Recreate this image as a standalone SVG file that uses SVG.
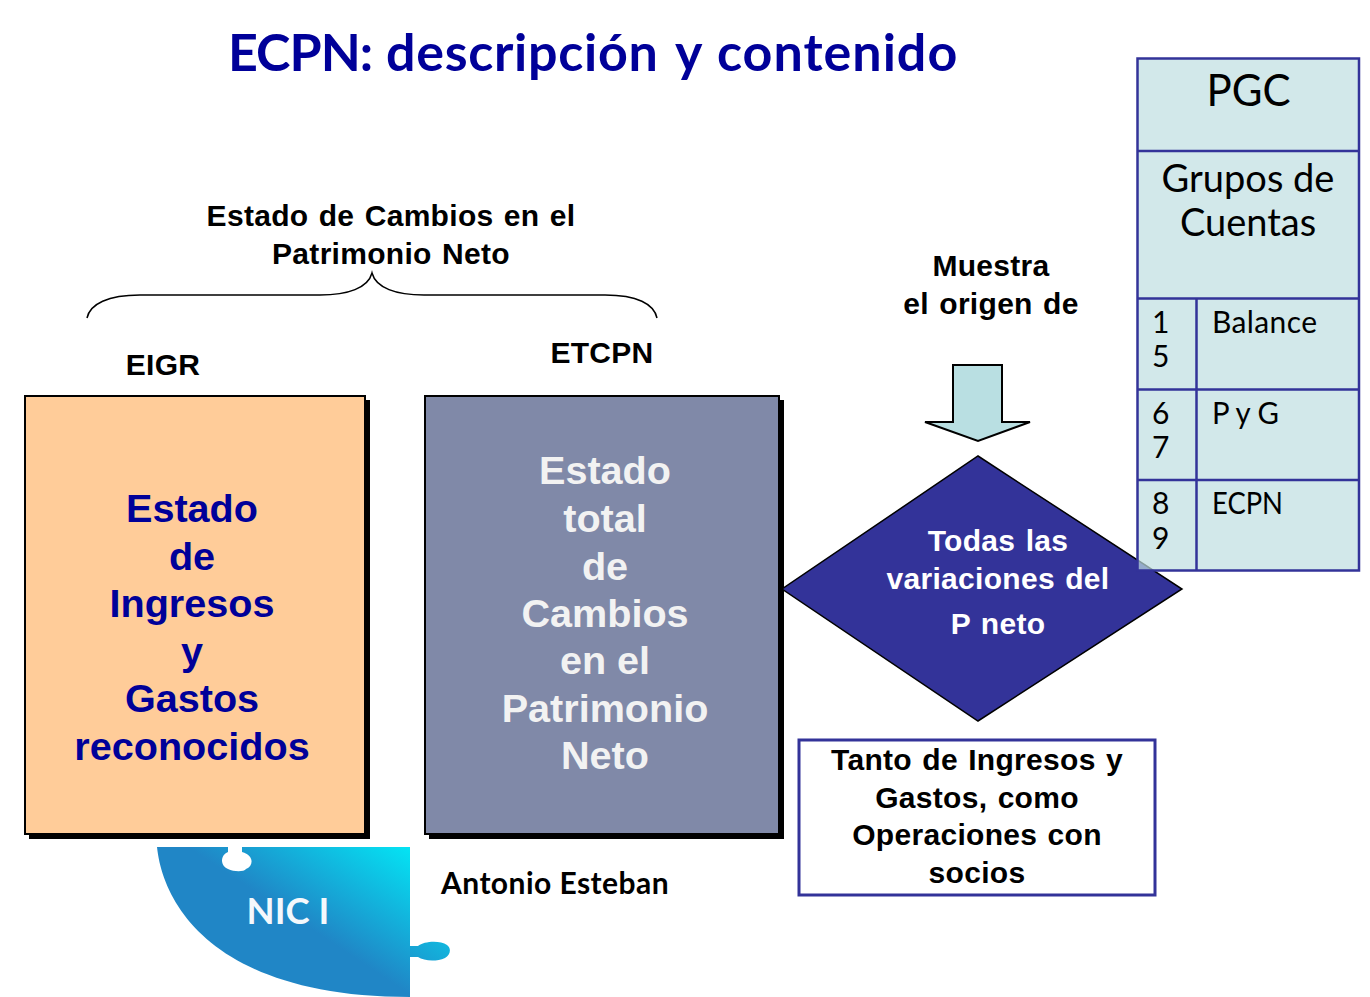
<svg xmlns="http://www.w3.org/2000/svg" width="1370" height="997" viewBox="0 0 1370 997">
<style>
text{font-family:"Liberation Sans",Arial,sans-serif;font-weight:bold;text-anchor:middle}
.lbl{font-size:30px;fill:#000;letter-spacing:.3px;word-spacing:1.700px}
.big{font-size:39.600px}
.blue{fill:#000099}
.white{fill:#f2f2f2}
.dia{font-size:30px;fill:#fff;letter-spacing:.3px;word-spacing:1.700px}
.cal{font-family:Lato,"Noto Sans",sans-serif;font-weight:normal;fill:#000}
.cell{font-size:30px;text-anchor:start}
.grid{stroke:#333399;stroke-width:2.5;fill:none}
.title{font-family:Lato,"Noto Sans",sans-serif;font-size:52px;fill:#000099;text-anchor:start}
</style>
<defs>
<linearGradient id="puz" gradientUnits="userSpaceOnUse" x1="410" y1="847" x2="325" y2="975">
<stop offset="0" stop-color="#04e4f4"/><stop offset="0.8" stop-color="#2086c6"/><stop offset="1" stop-color="#2086c6"/>
</linearGradient>
</defs>
<rect width="1370" height="997" fill="#fff"/>
<text class="title" y="71"><tspan x="228" letter-spacing="-1">ECPN:</tspan><tspan x="386" letter-spacing="0.700">descripción</tspan><tspan x="675">y</tspan><tspan x="717" letter-spacing="1">contenido</tspan></text>

<g id="connectors">
<path d="M87 318C90 304 108 295 140 295H320C348 295 368 288 372 273C376 288 396 295 424 295H605C637 295 654 304 657 318" fill="none" stroke="#000" stroke-width="1.5"/>
</g>

<g id="label-ecpn">
<text class="lbl" x="391" y="226">Estado de Cambios en el</text>
<text class="lbl" x="391" y="264">Patrimonio Neto</text>
</g>
<g id="label-muestra">
<text class="lbl" x="991" y="276">Muestra</text>
<text class="lbl" x="991" y="314">el origen de</text>
</g>
<text class="lbl" x="163" y="375">EIGR</text>
<text class="lbl" x="602" y="363">ETCPN</text>

<g id="eigr">
<rect x="29" y="400" width="341" height="439" fill="#000"/>
<rect x="25" y="396" width="340" height="438" fill="#ffcc99" stroke="#000" stroke-width="2"/>
<g class="big blue">
<text x="192" y="521.500">Estado</text>
<text x="192" y="569.500">de</text>
<text x="192" y="616.500">Ingresos</text>
<text x="192" y="664.500">y</text>
<text x="192" y="711.500">Gastos</text>
<text x="192" y="759.500">reconocidos</text>
</g>
</g>

<g id="etcpn">
<rect x="429" y="400" width="355" height="439" fill="#000"/>
<rect x="425" y="396" width="354" height="438" fill="#8089a8" stroke="#000" stroke-width="2"/>
<g class="big white">
<text x="605" y="484">Estado</text>
<text x="605" y="532">total</text>
<text x="605" y="580">de</text>
<text x="605" y="627">Cambios</text>
<text x="605" y="674">en el</text>
<text x="605" y="722">Patrimonio</text>
<text x="605" y="769">Neto</text>
</g>
</g>

<g id="arrow">
<path d="M953 365H1002V422H1030L978 441L925 422H953Z" fill="#b9dfe2" stroke="#000" stroke-width="2"/>
</g>

<g id="variaciones">
<path d="M978 456L1182 589L978 721L782 589Z" fill="#333399" stroke="#000" stroke-width="1.5"/>
<text class="dia" x="998" y="551">Todas las</text>
<text class="dia" x="998" y="589">variaciones del</text>
<text class="dia" x="998" y="634">P neto</text>
</g>

<g id="pgc">
<rect x="1137.500" y="58.500" width="221.500" height="512" fill="#bfdee1" fill-opacity="0.7"/>
<path class="grid" d="M1137.500 58.500H1359V570.500H1137.500ZM1137.500 151H1359M1137.500 298.500H1359M1137.500 389.500H1359M1137.500 480H1359M1196.500 298.500V570.500"/>
<text class="cal" x="1248.500" y="106" font-size="44" textLength="84" lengthAdjust="spacingAndGlyphs">PGC</text>
<text class="cal" x="1248" y="192" font-size="38">Grupos de</text>
<text class="cal" x="1248" y="236" font-size="38">Cuentas</text>
<text class="cal cell" x="1152" y="333">1</text>
<text class="cal cell" x="1152" y="367">5</text>
<text class="cal cell" x="1212" y="333" textLength="105" lengthAdjust="spacing">Balance</text>
<text class="cal cell" x="1152" y="424">6</text>
<text class="cal cell" x="1152" y="458">7</text>
<text class="cal cell" x="1212" y="424" textLength="67" lengthAdjust="spacingAndGlyphs">P y G</text>
<text class="cal cell" x="1152" y="514">8</text>
<text class="cal cell" x="1152" y="549">9</text>
<text class="cal cell" x="1212" y="514" textLength="71" lengthAdjust="spacingAndGlyphs">ECPN</text>
</g>

<g id="tanto">
<rect x="799" y="740" width="356" height="155" fill="#fff" stroke="#333399" stroke-width="3"/>
<text class="lbl" x="977" y="770">Tanto de Ingresos y</text>
<text class="lbl" x="977" y="808">Gastos, como</text>
<text class="lbl" x="977" y="845">Operaciones con</text>
<text class="lbl" x="977" y="883">socios</text>
</g>

<g id="nic">
<path d="M157 847H228V852C220 855 220 866 228 869C234 872 244 872 246 869C254 866 254 855 242 852V847H410V946H418C424 941 440 940 447 945C452 949 450 955 445 958C436 962 424 961 418 957H410V997C215 997 163 905 157 847Z" fill="url(#puz)"/>
<text x="288" y="924" font-size="36.500" fill="#f4f8fc" style="font-family:Lato,'Noto Sans',sans-serif;font-weight:bold">NIC I</text>
</g>

<text class="cal" x="555" y="894" font-size="30" letter-spacing="0.450" style="font-weight:bold">Antonio Esteban</text>
</svg>
